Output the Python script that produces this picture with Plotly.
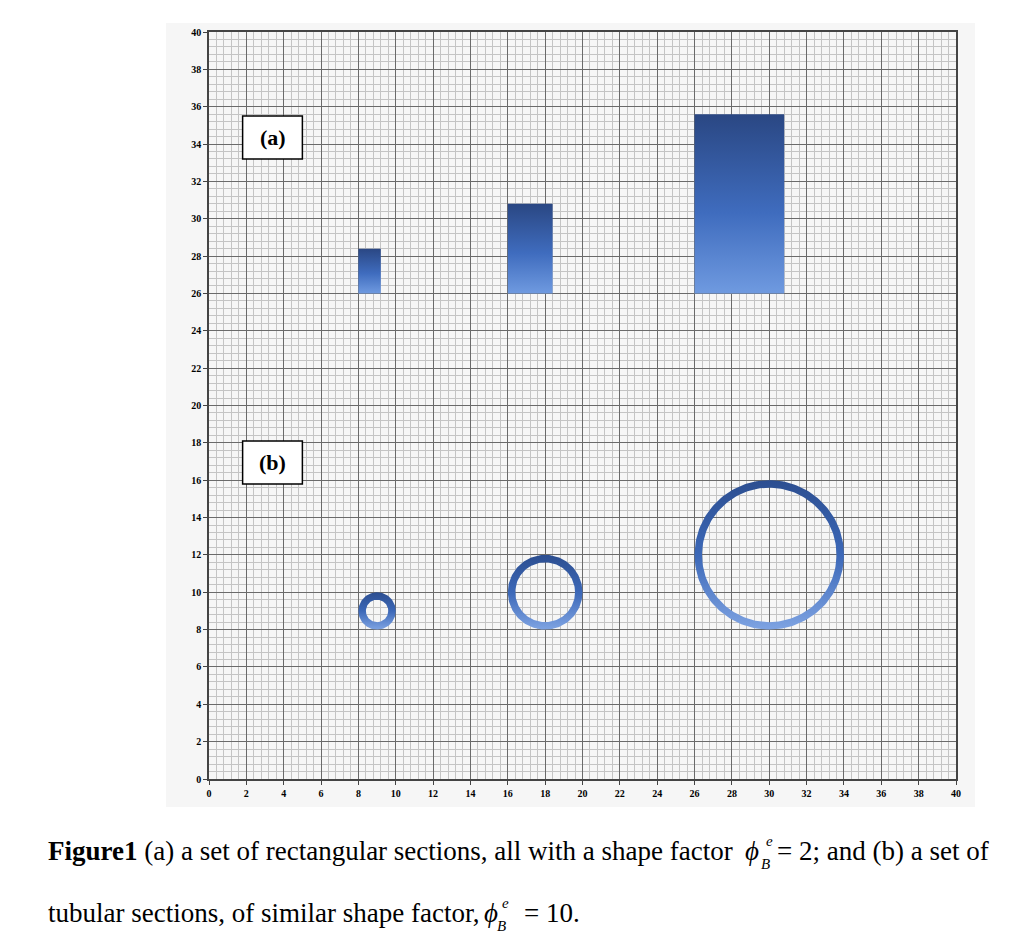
import numpy as np
import plotly.graph_objects as go

# (a) rectangular sections, all sitting on y = 26
rect_x0 = [8, 16, 26]
rect_width = [1.2, 2.4, 4.8]
rect_height = [2.4, 4.8, 9.6]
rect_base = 26

# (b) tubular sections
tube_cx = [9, 18, 30]
tube_cy = [9, 10, 12]
tube_outer_r = [1, 2, 4]
tube_wall = [0.4, 0.4, 0.4]

# panel labels: text, x0, x1, y0, y1
panel_labels = ['(a)', '(b)']
label_x0 = [1.8, 1.8]
label_x1 = [5.0, 5.0]
label_y0 = [33.2, 15.8]
label_y1 = [35.5, 18.1]

axis_ticks = list(range(0, 41, 2))

W, H = 1024, 944
OFF = 8  # the page body adds 8px before the figure
L, T = 209 - OFF, 32 - OFF
PW = PH = 747
R = W - L - PW
B = H - T - PH

SERIF = 'Liberation Serif, Times New Roman, Times, serif'
# the gradient runs bottom (0) -> top (1)
rect_scale = [[0, '#6f9ae0'], [0.45, '#3f6cbe'], [1, '#2a4783']]
tube_scale = [[0, '#7ea3e2'], [0.5, '#3c68b8'], [1, '#2c4e90']]


def px(x):
    return (x - OFF - L) / PW


def py(y):
    return (T + PH - (y - OFF)) / PH


fig = go.Figure()

for x0, w, h in zip(rect_x0, rect_width, rect_height):
    fig.add_trace(go.Scatter(
        x=[x0, x0 + w, x0 + w, x0, x0],
        y=[rect_base, rect_base, rect_base + h, rect_base + h, rect_base],
        mode='lines', line=dict(width=0), fill='toself',
        fillgradient=dict(type='vertical', colorscale=rect_scale),
        hoverinfo='skip', showlegend=False))

t = np.linspace(0, 2 * np.pi, 181)
for cx, cy, r_out, wall in zip(tube_cx, tube_cy, tube_outer_r, tube_wall):
    r_in = r_out - wall
    xs = np.concatenate([cx + r_out * np.cos(t), cx + r_in * np.cos(t[::-1])])
    ys = np.concatenate([cy + r_out * np.sin(t), cy + r_in * np.sin(t[::-1])])
    fig.add_trace(go.Scatter(
        x=xs, y=ys, mode='lines', line=dict(width=0), fill='toself',
        fillgradient=dict(type='vertical', colorscale=tube_scale),
        hoverinfo='skip', showlegend=False))

# faint grey backdrop behind the graph paper
fig.add_shape(type='rect', xref='paper', yref='paper',
              x0=px(166), x1=px(975), y0=py(807), y1=py(23),
              fillcolor='#f6f6f6', line=dict(width=0), layer='below')

for txt, x0, x1, y0, y1 in zip(panel_labels, label_x0, label_x1, label_y0, label_y1):
    fig.add_shape(type='rect', x0=x0, x1=x1, y0=y0, y1=y1,
                  fillcolor='white', line=dict(color='black', width=1.5), layer='above')
    fig.add_annotation(x=(x0 + x1) / 2, y=(y0 + y1) / 2, text=f'<b>{txt}</b>',
                       showarrow=False, font=dict(family=SERIF, size=22, color='black'))

# caption, built in pieces so the phi can carry a stacked super/subscript
cap = dict(family=SERIF, size=27, color='black')
small = dict(family=SERIF, size=15, color='black')
caption_parts = [
    ('<b>Figure1</b> (a) a set of rectangular sections, all with a shape factor', 46, 851, cap),
    ('<i>ϕ</i>', 743, 851, cap),
    ('<i>e</i>', 764, 841, small),
    ('<i>B</i>', 759, 864, small),
    ('= 2; and (b) a set of', 775, 851, cap),
    ('tubular sections, of similar shape factor,', 46, 913, cap),
    ('<i>ϕ</i>', 482, 913, cap),
    ('<i>e</i>', 500, 903, small),
    ('<i>B</i>', 495, 926, small),
    ('= 10.', 522, 913, cap),
]
for txt, x, y, f in caption_parts:
    fig.add_annotation(xref='paper', yref='paper', x=px(x), y=py(y), text=txt,
                       xanchor='left', yanchor='middle', showarrow=False, font=f)

axis_style = dict(
    range=[0, 40], tickvals=axis_ticks, ticktext=[str(v) for v in axis_ticks],
    showgrid=True, gridcolor='#6a6a6a', gridwidth=1.2,
    minor=dict(dtick=0.4, tick0=0, showgrid=True, gridcolor='#c4c4c4', gridwidth=1),
    showline=True, linecolor='#444444', linewidth=1.5, mirror=True,
    ticks='outside', ticklen=4, tickcolor='#444444', zeroline=False,
    tickfont=dict(family=SERIF, size=10, color='black', weight='bold'),
    fixedrange=True,
)
fig.update_xaxes(**axis_style)
fig.update_yaxes(**axis_style)

fig.update_layout(
    width=W, height=H,
    margin=dict(l=L, r=R, t=T, b=B),
    paper_bgcolor='white', plot_bgcolor='white',
    showlegend=False,
)

fig.write_html('out.html')
